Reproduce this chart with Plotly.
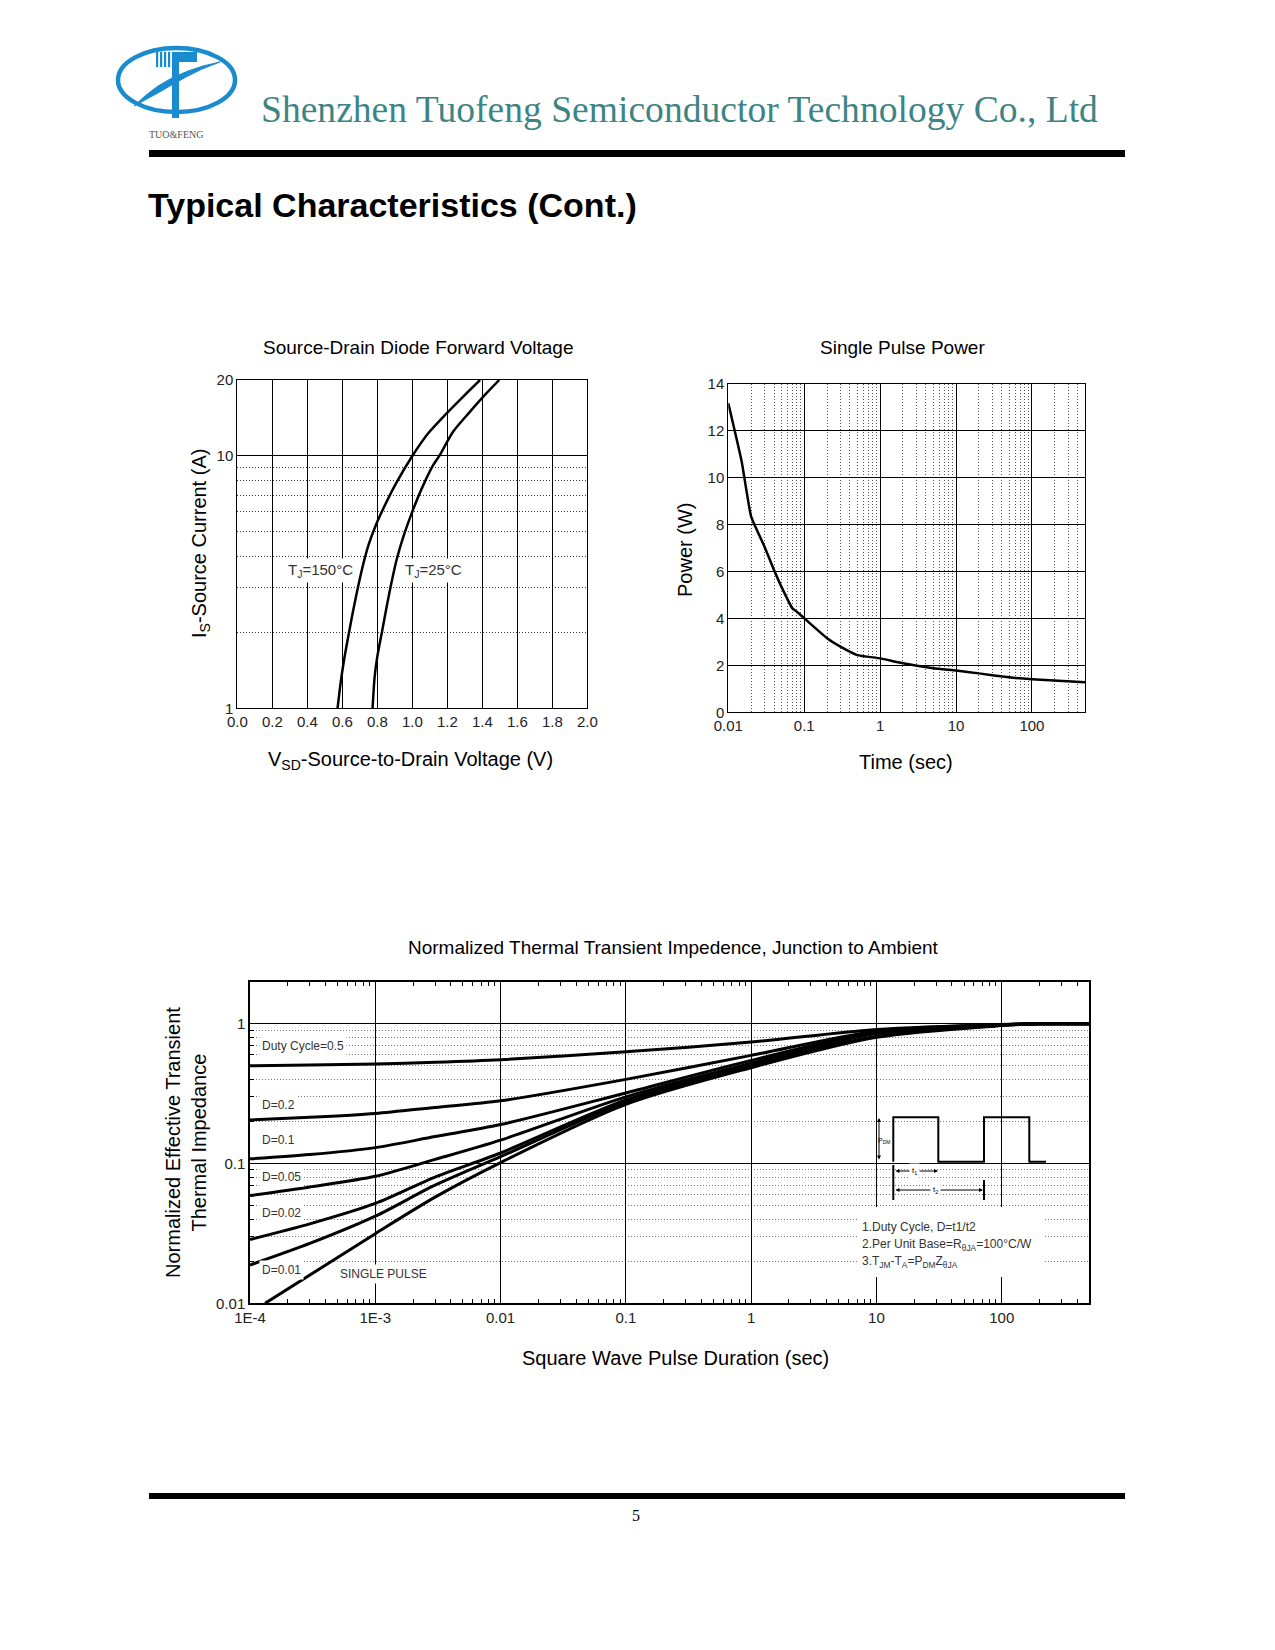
import math
import plotly.graph_objects as go

# ---------------- data ----------------
# Source-Drain Diode Forward Voltage
vsd_150 = [0.573, 0.590, 0.610, 0.634, 0.659, 0.686, 0.716, 0.750, 0.792, 0.844, 0.907, 1.000, 1.091, 1.196, 1.291, 1.387]
is_150 = [1.0, 1.256, 1.554, 1.923, 2.38, 2.94, 3.64, 4.44, 5.33, 6.39, 7.79, 10.0, 12.3, 14.75, 17.2, 20.0]
vsd_25 = [0.773, 0.785, 0.800, 0.825, 0.850, 0.876, 0.910, 0.949, 1.000, 1.059, 1.120, 1.154, 1.234, 1.330, 1.415, 1.497]
is_25 = [1.0, 1.335, 1.60, 1.98, 2.45, 3.03, 3.87, 4.79, 6.02, 7.56, 9.21, 10.0, 12.5, 14.98, 17.45, 20.0]
vsd_ticks = [0.0, 0.2, 0.4, 0.6, 0.8, 1.0, 1.2, 1.4, 1.6, 1.8, 2.0]
is_ticks = [1, 10, 20]
is_minor = [2, 3, 4, 5, 6, 7, 8, 9]

# Single Pulse Power
sp_time = [0.01, 0.015, 0.02, 0.03, 0.04, 0.05, 0.07, 0.08, 0.1, 0.2, 0.3, 0.5, 1, 2, 5, 10, 20, 50, 100, 500]
sp_power = [13.18, 10.7, 8.34, 7.06, 6.07, 5.36, 4.43, 4.29, 4.01, 3.16, 2.80, 2.44, 2.30, 2.09, 1.88, 1.78, 1.66, 1.49, 1.41, 1.28]
sp_xticks = [0.01, 0.1, 1, 10, 100]
sp_xticktext = ["0.01", "0.1", "1", "10", "100"]

# Normalized Thermal Transient Impedance
zt_x = [1e-4, 3e-4, 1e-3, 3e-3, 1e-2, 1e-1, 1, 10, 100, 200, 500]
zt_d05 = [0.500, 0.507, 0.515, 0.530, 0.553, 0.630, 0.740, 0.910, 0.990, 1.0, 1.0]
zt_d02 = [0.205, 0.214, 0.228, 0.252, 0.281, 0.400, 0.594, 0.885, 0.985, 1.0, 1.0]
zt_d01 = [0.108, 0.116, 0.130, 0.156, 0.190, 0.320, 0.547, 0.870, 0.982, 1.0, 1.0]
zt_d005 = [0.059, 0.068, 0.081, 0.107, 0.147, 0.300, 0.523, 0.850, 0.980, 1.0, 1.0]
zt_d002 = [0.0286, 0.0370, 0.0518, 0.080, 0.119, 0.285, 0.510, 0.812, 0.978, 1.0, 1.0]
zt_d001 = [0.0188, 0.0268, 0.042, 0.070, 0.112, 0.275, 0.500, 0.808, 0.975, 1.0, 1.0]
zt_single_x = [1.32e-4, 1e-3, 3e-3, 1e-2, 1e-1, 1, 10, 100, 200, 500]
zt_single = [0.010, 0.0315, 0.0575, 0.1016, 0.265, 0.485, 0.800, 0.970, 1.0, 1.0]
zt_xticks = [1e-4, 1e-3, 1e-2, 1e-1, 1, 10, 100]
zt_xticktext = ["1E-4", "1E-3", "0.01", "0.1", "1", "10", "100"]
zt_yticks = [0.01, 0.1, 1]
zt_yticktext = ["0.01", "0.1", "1"]

# ---------------- helpers ----------------
W, H = 1275, 1650
OFF = 8  # page body margin of the browser
def px(x):
    return (x - OFF) / W
def py(y):
    return 1 - (y - OFF) / H

def decade_minor(lo_exp, hi_val):
    vals = []
    e = lo_exp
    while True:
        for m in range(2, 10):
            v = m * 10 ** e
            if v > hi_val * 1.0001:
                return vals
            vals.append(v)
        e += 1

FONT = "Liberation Sans, Arial, sans-serif"
SERIF = "Liberation Serif, Times New Roman, serif"

fig = go.Figure()

# chart 1
fig.add_trace(go.Scatter(x=vsd_150, y=is_150, mode="lines", line=dict(color="black", width=2.5, shape="spline", smoothing=0.8),
                         xaxis="x", yaxis="y", showlegend=False))
fig.add_trace(go.Scatter(x=vsd_25, y=is_25, mode="lines", line=dict(color="black", width=2.5, shape="spline", smoothing=0.8),
                         xaxis="x", yaxis="y", showlegend=False))
# chart 2
fig.add_trace(go.Scatter(x=sp_time, y=sp_power, mode="lines", line=dict(color="black", width=2.5, shape="spline", smoothing=0.4),
                         xaxis="x2", yaxis="y2", showlegend=False))
# chart 3
for yy in [zt_d05, zt_d02, zt_d01, zt_d005, zt_d002, zt_d001]:
    fig.add_trace(go.Scatter(x=zt_x, y=yy, mode="lines", line=dict(color="black", width=3, shape="spline", smoothing=0.8),
                             xaxis="x3", yaxis="y3", showlegend=False))
fig.add_trace(go.Scatter(x=zt_single_x, y=zt_single, mode="lines", line=dict(color="black", width=3, shape="spline", smoothing=0.8),
                         xaxis="x3", yaxis="y3", showlegend=False))

tickfont = dict(family=FONT, size=15, color="#222")

fig.update_layout(
    width=W, height=H, margin=dict(l=0, r=0, t=0, b=0, pad=0, autoexpand=False),
    paper_bgcolor="white", plot_bgcolor="white",
    xaxis=dict(domain=[px(237.3), px(587.3)], range=[0, 2], anchor="y", tickvals=vsd_ticks, tickformat=".1f",
               showgrid=True, gridcolor="black", gridwidth=1, showline=True, linecolor="black", linewidth=1,
               mirror=True, ticks="", tickfont=tickfont, zeroline=False, automargin=False),
    yaxis=dict(domain=[py(708.3), py(380)], type="log", range=[0, math.log10(20)], anchor="x",
               tickvals=is_ticks, ticktext=[str(v) for v in is_ticks],
               showgrid=True, gridcolor="black", gridwidth=1, showline=True, linecolor="black", linewidth=1,
               mirror=True, ticks="", tickfont=tickfont, automargin=False,
               minor=dict(tickvals=is_minor, showgrid=True, gridcolor="#333", griddash="1px,2px", gridwidth=1, ticks="")),
    xaxis2=dict(domain=[px(728.3), px(1085)], type="log", range=[-2, math.log10(500)], anchor="y2",
                tickvals=sp_xticks, ticktext=sp_xticktext,
                showgrid=True, gridcolor="black", gridwidth=1, showline=True, linecolor="black", linewidth=1,
                mirror=True, ticks="", tickfont=tickfont, automargin=False,
                minor=dict(tickvals=decade_minor(-2, 500), showgrid=True, gridcolor="#555", griddash="1px,2px", gridwidth=1, ticks="")),
    yaxis2=dict(domain=[py(712.3), py(384)], range=[0, 14], dtick=2, anchor="x2",
                showgrid=True, gridcolor="black", gridwidth=1, showline=True, linecolor="black", linewidth=1,
                mirror=True, ticks="", tickfont=tickfont, zeroline=False, automargin=False),
    xaxis3=dict(domain=[px(250), px(1089.3)], type="log", range=[-4, math.log10(500)], anchor="y3",
                tickvals=zt_xticks, ticktext=zt_xticktext,
                showgrid=True, gridcolor="black", gridwidth=1, showline=True, linecolor="black", linewidth=1.5,
                mirror="allticks", ticks="", tickfont=tickfont, automargin=False,
                minor=dict(tickvals=decade_minor(-4, 500), ticks="inside", ticklen=5, tickcolor="black", tickwidth=1, showgrid=False)),
    yaxis3=dict(domain=[py(1303.3), py(981.7)], type="log", range=[-2, math.log10(2)], anchor="x3",
                tickvals=zt_yticks, ticktext=zt_yticktext,
                showgrid=True, gridcolor="black", gridwidth=1, showline=True, linecolor="black", linewidth=1.5,
                mirror=True, ticks="", tickfont=tickfont, automargin=False,
                minor=dict(tickvals=decade_minor(-2, 0.95), showgrid=True, gridcolor="#777", griddash="1px,2px", gridwidth=1,
                           ticks="inside", ticklen=4, tickcolor="black")),
)

ann = []
def text(x, y, s, size=15, color="black", family=FONT, xanchor="center", yanchor="middle", angle=0, bg=None):
    d = dict(x=px(x), y=py(y), xref="paper", yref="paper", text=s, showarrow=False,
             font=dict(family=family, size=size, color=color), xanchor=xanchor, yanchor=yanchor, textangle=angle)
    if bg:
        d["bgcolor"] = bg
        d["borderpad"] = 2
    ann.append(d)

# header
text(259, 110, "Shenzhen Tuofeng Semiconductor Technology Co., Ltd", size=37.6, color="#3d8484", family=SERIF, xanchor="left")
text(176, 134, "TUO&amp;FENG", size=10, color="#555", family=SERIF)
text(146, 205, "<b>Typical Characteristics (Cont.)</b>", size=34, family=FONT, xanchor="left")
text(636, 1515, "5", size=16, family=SERIF)

# chart titles / axis titles
text(418, 347, "Source-Drain Diode Forward Voltage", size=19)
text(410, 760, "V<sub>SD</sub>-Source-to-Drain Voltage (V)", size=20)
text(200, 543, "I<sub>S</sub>-Source Current (A)", size=20, angle=-90)
text(320, 570, "T<sub>J</sub>=150°C", size=15, color="#333", bg="white")
text(433, 570, "T<sub>J</sub>=25°C", size=15, color="#333", bg="white")

text(903, 347, "Single Pulse Power", size=19)
text(906, 762, "Time (sec)", size=20)
text(685, 550, "Power (W)", size=20, angle=-90)

text(673, 947, "Normalized Thermal Transient Impedence, Junction to Ambient", size=19)
text(675, 1358, "Square Wave Pulse Duration (sec)", size=20)
text(186, 1143, "Normalized Effective Transient<br>Thermal Impedance", size=20, angle=-90)

for lbl, yy in [("Duty Cycle=0.5", 1046), ("D=0.2", 1105), ("D=0.1", 1140), ("D=0.05", 1177), ("D=0.02", 1213), ("D=0.01", 1270)]:
    text(259, yy, lbl, size=12, color="#333", xanchor="left", bg="white")
text(337, 1274, "SINGLE PULSE", size=12, color="#333", xanchor="left", bg="white")

for i, s in enumerate(["1.Duty Cycle, D=t1/t2",
                       "2.Per Unit Base=R<sub>θJA</sub>=100°C/W",
                       "3.T<sub>JM</sub>-T<sub>A</sub>=P<sub>DM</sub>Z<sub>θJA</sub>"]):
    text(860, 1227 + i * 17.5, s, size=12, color="#333", xanchor="left")

# pulse diagram arrows / labels
def arrow(x, y, ax, ay):
    ann.append(dict(x=px(x), y=py(y), xref="paper", yref="paper", ax=ax, ay=ay, text="", showarrow=True,
                    arrowhead=2, arrowsize=0.8, arrowwidth=1, arrowcolor="black", arrowside="end+start"))
arrow(879, 1118, 0, 43)
arrow(938, 1171, -44, 0)
arrow(983, 1190, -89, 0)
text(884, 1141, "P<sub>DM</sub>", size=7, color="black")
text(914, 1171, "t<sub>1</sub>", size=8, color="black", bg="white")
text(935, 1190, "t<sub>2</sub>", size=8, color="black", bg="white")

fig.update_layout(annotations=ann)

shapes = []
def rect(x0, y0, x1, y1, color="black", layer="above"):
    shapes.append(dict(type="rect", xref="paper", yref="paper", x0=px(x0), x1=px(x1), y0=py(y1), y1=py(y0),
                       fillcolor=color, line=dict(width=0), layer=layer))
def line(x0, y0, x1, y1, width=1, color="black"):
    shapes.append(dict(type="line", xref="paper", yref="paper", x0=px(x0), x1=px(x1), y0=py(y0), y1=py(y1),
                       line=dict(color=color, width=width), layer="above"))
def path(pts, width=2, color="black", fill=None, close=False):
    s = "M " + " L ".join(f"{px(a):.5f},{py(b):.5f}" for a, b in pts)
    if close:
        s += " Z"
    d = dict(type="path", xref="paper", yref="paper", path=s, line=dict(color=color, width=width), layer="above")
    if fill:
        d["fillcolor"] = fill
    shapes.append(d)

# header rules
rect(149, 150, 1125, 157)
rect(149, 1493, 1125, 1499)

# logo
BLUE = "#1b8bd0"
shapes.append(dict(type="circle", xref="paper", yref="paper", x0=px(118), x1=px(235), y0=py(112), y1=py(48),
                   line=dict(color=BLUE, width=4.5)))
rect(172, 52, 179, 118, color=BLUE)
rect(172, 52, 197, 62, color=BLUE)
for xs in [156, 160, 164, 168]:
    rect(xs, 52, xs + 2.2, 67, color=BLUE)
sw_top = [(134, 106), (145, 96), (158, 86), (172, 78), (188, 71), (203, 66), (220, 62)]
sw_bot = [(220, 62), (202, 69), (186, 77), (170, 86), (156, 94), (145, 100), (134, 106)]
path(sw_top + sw_bot[1:], width=1, color=BLUE, fill=BLUE, close=True)

# notes white box
rect(857, 1207, 1045, 1277, color="white")

# pulse waveform
path([(893.3, 1161.7), (893.3, 1117.3), (938.3, 1117.3), (938.3, 1161.7), (984, 1161.7), (984, 1117.3),
      (1029.3, 1117.3), (1029.3, 1161.7), (1046, 1161.7)], width=2)
line(893.3, 1165, 893.3, 1200, width=2)
line(984, 1180, 984, 1200, width=2)

fig.update_layout(shapes=shapes)

fig.write_html("out.html")
